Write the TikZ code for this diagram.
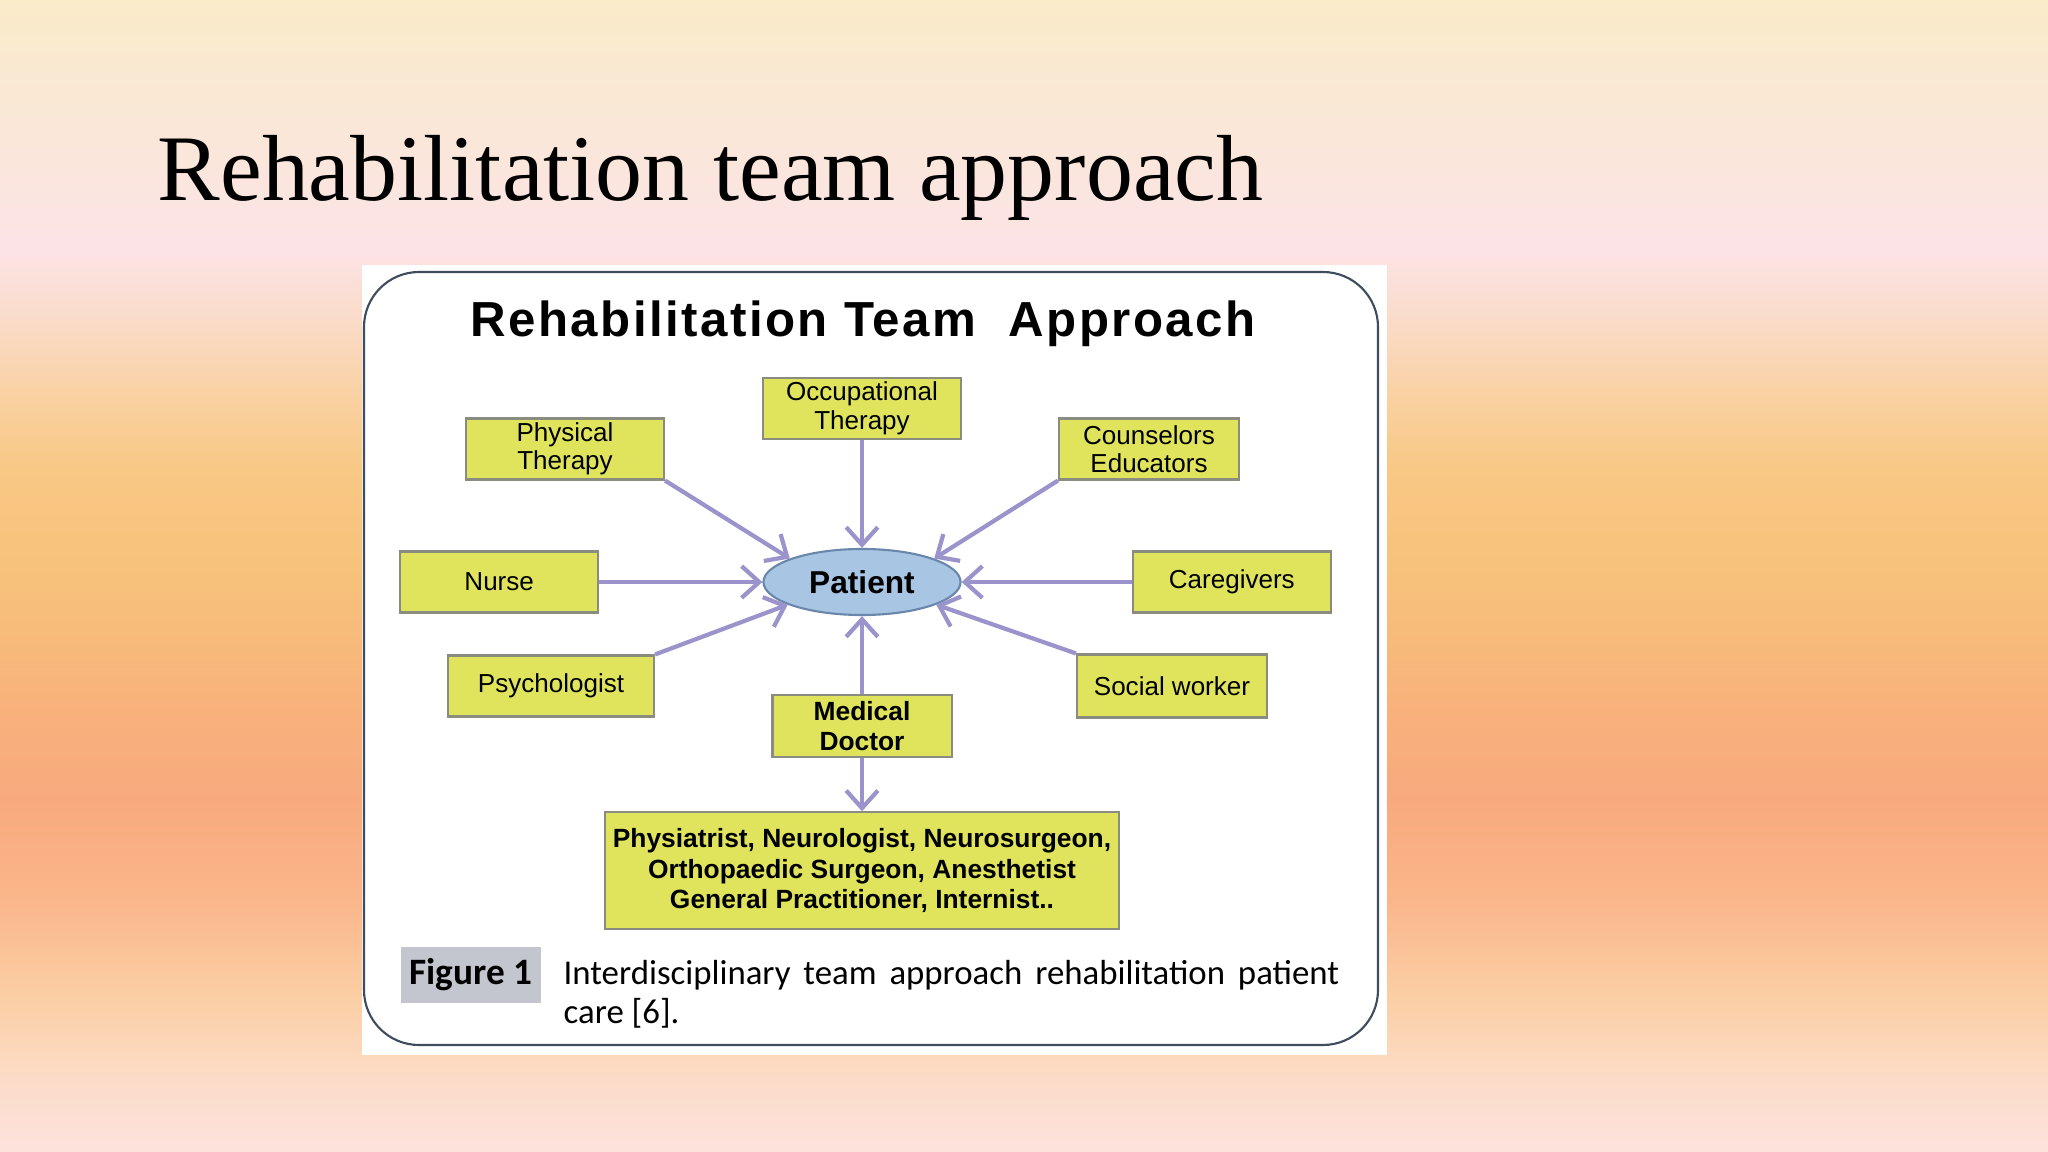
\documentclass[tikz,border=0pt]{standalone}
\usepackage{fontspec}
\usetikzlibrary{arrows.meta,positioning,shapes.geometric}

\newfontfamily\slidefont{Liberation Serif}
\newfontfamily\figfont{Liberation Sans}
\newfontfamily\headfont[LetterSpace=5]{Liberation Sans}
\newfontfamily\capfont{Carlito}

\definecolor{boxfill}{HTML}{DFE45C}
\definecolor{boxline}{HTML}{8A8C80}
\definecolor{patfill}{HTML}{A8C5E3}
\definecolor{patline}{HTML}{6A87AB}
\definecolor{linkc}{HTML}{9B94CC}
\definecolor{framec}{HTML}{3E4C5E}
\definecolor{figgray}{HTML}{C3C5CF}

% slide background, bottom to top
\definecolor{bgA}{HTML}{FDE2DD}
\definecolor{bgB}{HTML}{FCDCC8}
\definecolor{bgC}{HTML}{FBCFA5}
\definecolor{bgD}{HTML}{FAB68A}
\definecolor{bgE}{HTML}{F8AA7E}
\definecolor{bgF}{HTML}{F9B07C}
\definecolor{bgG}{HTML}{F7B97A}
\definecolor{bgH}{HTML}{F7C37C}
\definecolor{bgI}{HTML}{F8C884}
\definecolor{bgJ}{HTML}{F9D0A0}
\definecolor{bgK}{HTML}{FADAC4}
\definecolor{bgL}{HTML}{FCE3E6}
\definecolor{bgM}{HTML}{FAE8D5}
\definecolor{bgN}{HTML}{FAEBC9}
\pgfdeclareverticalshading{slidebg}{100bp}{color(0bp)=(bgA); color(25bp)=(bgA);
  color(28.13bp)=(bgB); color(31.60bp)=(bgC); color(35.94bp)=(bgD);
  color(40.28bp)=(bgE); color(43.75bp)=(bgF); color(46.79bp)=(bgG);
  color(50.69bp)=(bgH); color(54.60bp)=(bgI); color(57.64bp)=(bgJ);
  color(60.68bp)=(bgK); color(64.15bp)=(bgL); color(70.66bp)=(bgM);
  color(75bp)=(bgN); color(100bp)=(bgN)}

\begin{document}
\begin{tikzpicture}[
x=0.01cm, y=-0.01cm,
box/.style={draw=boxline, fill=boxfill, line width=0.6pt, align=center, inner sep=1pt, minimum width=1.98cm, minimum height=0.61cm, font=\figfont\fontsize{7.4}{8}\selectfont},
boldbox/.style={box, font=\figfont\bfseries\fontsize{7.5}{8.7}\selectfont},
patient/.style={ellipse, draw=patline, fill=patfill, line width=0.6pt, inner sep=0pt, minimum width=1.97cm, minimum height=0.66cm, font=\figfont\bfseries\fontsize{9}{10}\selectfont},
link/.style={->, draw=linkc, line width=1.2pt},
>={Straight Barb[length=5pt,width=9pt]}
]
\useasboundingbox (0,0) rectangle (2048,1152);
\shade[shading=slidebg] (0,0) rectangle (2048,1152);

\node[anchor=base west, inner sep=0, font=\slidefont\fontsize{26.7}{30}\selectfont] (title) at (157,201) {Rehabilitation team approach};

% figure panel
\fill[white] (362,265) rectangle (1387,1055);
\draw[framec, line width=0.6pt, rounded corners=0.55cm] (364,272) rectangle (1378,1045);
\node[anchor=base, inner sep=0, font=\headfont\bfseries\fontsize{14}{16}\selectfont] (head) at (863,337) {Rehabilitation Team~~Approach};

\node[patient] (pat) at (862,582) {Patient};
\node[box, above=1.08cm of pat] (occ) {Occupational\\Therapy};
\node[box] (phys) at (565,449) {Physical\\Therapy};
\node[box, minimum width=1.80cm] (coun) at (1149,449) {Counselors\\Educators};
\node[box, left=1.63cm of pat] (nurse) {Nurse};
\node[box, right=1.70cm of pat] (care) {Caregivers};
\node[box, minimum width=2.06cm] (psy) at (551,686) {Psychologist};
\node[box, minimum width=1.90cm, minimum height=0.63cm] (soc) at (1172,686) {Social worker};
\node[boldbox, below=0.78cm of pat, minimum width=1.79cm, minimum height=0.62cm] (med) {Medical\\Doctor};
\node[boldbox, below=0.53cm of med, minimum width=5.13cm, minimum height=1.17cm] (spec) {Physiatrist, Neurologist, Neurosurgeon,\\Orthopaedic Surgeon, Anesthetist\\General Practitioner, Internist..};

\draw[link] (occ) -- (pat);
\draw[link] (phys.south east) -- (pat.162);
\draw[link] (coun.south west) -- (pat.18);
\draw[link] (nurse) -- (pat);
\draw[link] (care) -- (pat);
\draw[link] (psy.north east) -- (pat.197);
\draw[link] (soc.north west) -- (pat.-17);
\draw[link] (med) -- (pat);
\draw[link] (med) -- (spec);

% caption
\node[fill=figgray, minimum width=1.39cm, minimum height=0.56cm, inner sep=0, font=\capfont\bfseries\fontsize{10.6}{12}\selectfont] (fig) at (471,975) {Figure 1};
\node[anchor=base west, inner sep=0, text width=7.75cm, align=justify, font=\capfont\fontsize{9.9}{11.1}\selectfont] (cap) at (563,984) {Interdisciplinary team approach rehabilitation patient\linebreak care [6].};
\end{tikzpicture}
\end{document}
